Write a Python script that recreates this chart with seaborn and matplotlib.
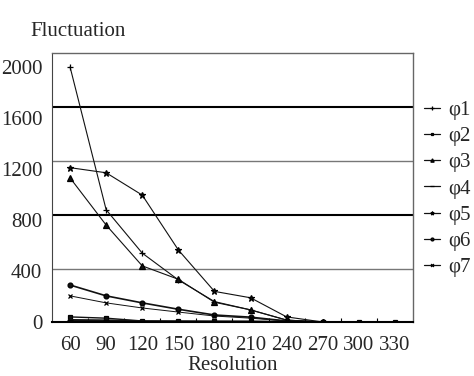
import numpy as np
import pandas as pd
import seaborn as sns
import matplotlib.pyplot as plt
from matplotlib.ticker import FixedLocator

# Resolution categories and fluctuation per feature
resolution = [60, 90, 120, 150, 180, 210, 240, 270, 300, 330]
phi1 = [2000, 880, 540, 330, 160, 95, 15, 0, np.nan, np.nan]
phi2 = [40, 30, 8, 6, 5, 5, 2, 0, 0, 0]
phi3 = [1130, 760, 440, 335, 155, 95, 15, 0, np.nan, np.nan]
phi4 = [15, 12, 5, 4, 3, 2, 0, 0, np.nan, np.nan]
phi5 = [1210, 1170, 995, 565, 240, 190, 40, 0, np.nan, np.nan]
phi6 = [290, 205, 150, 100, 55, 38, 8, 0, np.nan, np.nan]
phi7 = [205, 150, 110, 78, 47, 30, 8, 0, np.nan, np.nan]
labels = ["φ1", "φ2", "φ3", "φ4", "φ5", "φ6", "φ7"]

series = [phi1, phi2, phi3, phi4, phi5, phi6, phi7]
df = pd.DataFrame({
    "Resolution": resolution * len(series),
    "Fluctuation": [v for s in series for v in s],
    "feature": [lab for lab in labels for _ in resolution],
})

sns.set_style("white")
plt.rcParams["font.family"] = ["Liberation Serif", "DejaVu Serif"]
FS = 15

fig = plt.figure(figsize=(4.74, 3.76), dpi=100)
ax = fig.add_axes([0.1097, 0.1436, 0.7616, 0.7154])

# marker, line width, marker size per feature
styles = {
    "φ1": ("+", 0.8, 5),
    "φ2": ("s", 1.0, 3.5),
    "φ3": ("^", 0.8, 4),
    "φ4": ("_", 1.6, 4),
    "φ5": ("*", 0.8, 4.5),
    "φ6": ("o", 1.2, 3.5),
    "φ7": ("x", 0.7, 3.5),
}
for lab in labels:
    mk, lw, ms = styles[lab]
    sns.lineplot(data=df[df["feature"] == lab], x="Resolution", y="Fluctuation",
                 color="#111111", marker=mk, markersize=ms, markeredgewidth=0.9,
                 markeredgecolor="black", linewidth=lw, label=lab, ax=ax)

# horizontal rules as in the original (two dark, two light)
for yv, col, lw in [(415, "#777777", 1.0), (839, "black", 1.5),
                    (1265, "#777777", 1.0), (1688, "black", 1.5)]:
    ax.axhline(yv, color=col, lw=lw, zorder=0)

ax.set_xlim(45, 345)
ax.set_ylim(0, 2109)
ax.set_xticks(resolution)
ax.set_xticklabels([str(r) for r in resolution], fontsize=FS)
ax.xaxis.set_minor_locator(FixedLocator(np.arange(75, 345, 30)))
ax.tick_params(axis="x", which="major", length=0, pad=10)
ax.tick_params(axis="x", which="minor", direction="in", length=3, width=0.8,
               color="black", bottom=True)
ax.set_yticks([0, 400, 800, 1200, 1600, 2000])
ax.set_yticklabels(["0", "400", "800", "1200", "1600", "2000"], fontsize=FS)
ax.tick_params(axis="y", length=0, pad=7)

for side in ["top", "right"]:
    ax.spines[side].set_color("#666666")
    ax.spines[side].set_linewidth(1.0)
ax.spines["left"].set_color("#444444")
ax.spines["bottom"].set_color("black")
ax.spines["bottom"].set_linewidth(1.5)

ax.set_xlabel("Resolution", fontsize=FS, labelpad=1)
ax.set_ylabel("")
fig.text(30 / 474, 1 - 32 / 376, "Fluctuation", fontsize=FS, va="center", ha="left")

handles, labs = ax.get_legend_handles_labels()
leg = ax.legend(handles, labs, loc="center left", bbox_to_anchor=(1.0, 0.495),
                frameon=False, fontsize=FS, handlelength=0.75, handletextpad=0.4,
                labelspacing=0.32, borderaxespad=0.55, borderpad=0, markerscale=0.6)
for h in leg.legend_handles:
    h.set_linewidth(0.9)

fig.savefig("out.png", dpi=100)
